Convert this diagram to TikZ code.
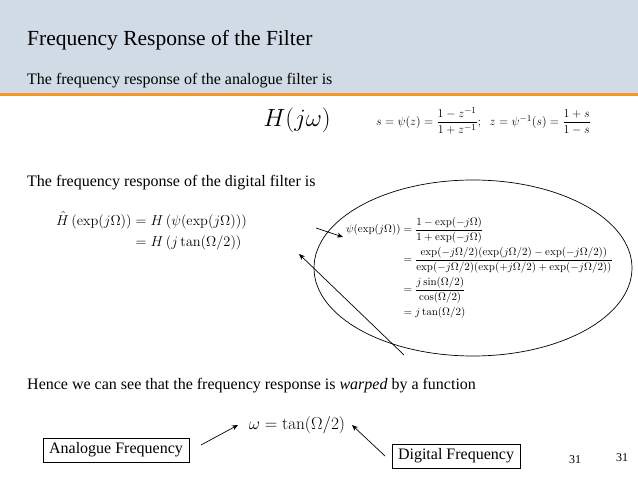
\documentclass[tikz,border=0pt]{standalone}
\usepackage{amsmath}
\usepackage[no-math]{fontspec}
\setmainfont{Liberation Serif}
\usetikzlibrary{arrows.meta}
\definecolor{band}{RGB}{209,219,230}
\definecolor{orng}{RGB}{245,150,40}
\tikzset{x=1pt,y=-1pt,
  txt/.style={anchor=west,inner sep=0,font=\fontsize{16}{18}\selectfont},
  fbox/.style={draw,inner xsep=6pt,inner ysep=5pt,font=\fontsize{16}{18}\selectfont},
  arr/.style={-{Stealth[length=6pt,width=5pt]},line width=0.7pt}}
\begin{document}
\begin{tikzpicture}
\useasboundingbox (0,0) rectangle (638,478);
\fill[band] (0,0) rectangle (638,94);
\fill[orng] (0,93) rectangle (638,96.5);
\node[anchor=west,inner sep=0,font=\fontsize{21.5}{24}\selectfont] (title) at (27,40) {Frequency Response of the Filter};
\node[txt] (t1) at (27,81) {The frequency response of the analogue filter is};
\node[inner sep=0,font=\fontsize{24}{28}\selectfont] (H) at (297,120) {$H(j\omega)$};
\node[anchor=west,inner sep=0,font=\fontsize{12.5}{15}\selectfont] (map) at (376,121) {$s=\psi(z)=\dfrac{1-z^{-1}}{1+z^{-1}};\;\; z=\psi^{-1}(s)=\dfrac{1+s}{1-s}$};
\node[txt] (t2) at (27,183) {The frequency response of the digital filter is};
\node[anchor=west,inner sep=0,font=\fontsize{15}{18}\selectfont] (Hh) at (56,232) {$\begin{aligned}\hat H\left(\exp(j\Omega)\right)&=H\left(\psi(\exp(j\Omega))\right)\\&=H\left(j\tan(\Omega/2)\right)\end{aligned}$};
\draw[line width=0.7pt] (473,268) ellipse (159 and 88);
\node[anchor=north west,inner sep=0,font=\fontsize{11}{13}\selectfont] (psi) at (346,217) {$\begin{aligned}\psi(\exp(j\Omega))&=\frac{1-\exp(-j\Omega)}{1+\exp(-j\Omega)}\\
&=\frac{\exp(-j\Omega/2)(\exp(j\Omega/2)-\exp(-j\Omega/2))}{\exp(-j\Omega/2)(\exp(+j\Omega/2)+\exp(-j\Omega/2))}\\
&=\frac{j\sin(\Omega/2)}{\cos(\Omega/2)}\\
&=j\tan(\Omega/2)\end{aligned}$};
\coordinate (a1s) at (316,228);
\coordinate (a1e) at (343,237);
\draw[arr] (a1s) -- (a1e);
\coordinate (a2s) at (404,355);
\coordinate (a2e) at (299,254);
\draw[arr] (a2s) -- (a2e);
\node[txt] (t3) at (27,386) {Hence we can see that the frequency response is \textit{warped} by a function};
\node[inner sep=0,font=\fontsize{17.5}{20}\selectfont] (w) at (297,425) {$\omega=\tan(\Omega/2)$};
\node[fbox] (af) at (116,450) {Analogue Frequency};
\node[fbox] (df) at (456,456) {Digital Frequency};
\coordinate (b1) at (201,445);
\coordinate (b2) at (385,456);
\draw[arr] (b1) -- (238,425);
\draw[arr] (b2) -- (352,425);
\node[font=\fontsize{12}{14}\selectfont] (p1) at (575,460) {31};
\node[font=\fontsize{12}{14}\selectfont] (p2) at (622,458) {31};
\end{tikzpicture}
\end{document}
